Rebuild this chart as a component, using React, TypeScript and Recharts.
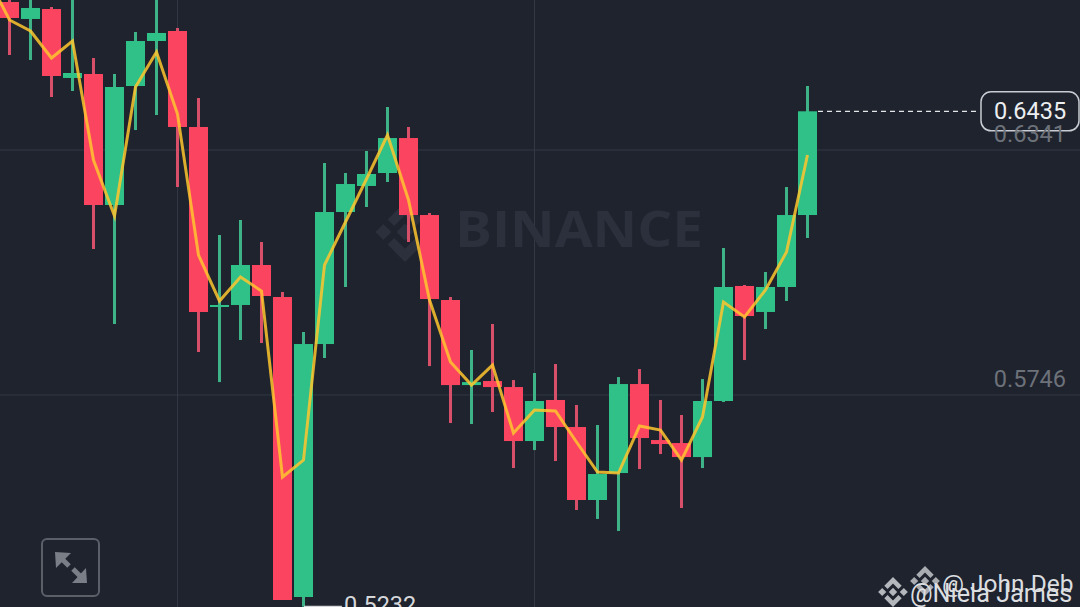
import { ComposedChart, Bar, Line, XAxis, YAxis, ReferenceLine, ReferenceDot } from "recharts";

const BG = "#1e232e";
const UP = "#2fc187";
const DOWN = "#fb4560";
const UP_WICK = "#3fb388";
const DOWN_WICK = "#d84f69";
const GRID = "#333844";

// price values
const slots = [-1, 0, 1, 2, 3, 4, 5, 6, 7, 8, 9, 10, 11, 12, 13, 14, 15, 16, 17, 18, 19, 20, 21, 22, 23, 24, 25, 26, 27, 28, 29, 30, 31, 32, 33, 34, 35, 36, 37, 38];
const opens = [null, .67004, .66592, .66834, .65159, .65256, .62074, .64964, .66057, .663, .63969, .59597, .59646, .60617, .5984, .52554, .58698, .61904, .62536, .62851, .63701, .61831, .59767, .57701, .57799, .57653, .56342, .57339, .56682, .5491, .55565, .57726, .56366, .56293, .55953, .57314, .60108, .59476, .60083, .61831];
const closes = [null, .66616, .66859, .65207, .6528, .62074, .6494, .66057, .66252, .63969, .59476, .59646, .60617, .59864, .52481, .58698, .61904, .62584, .62827, .63701, .61831, .59791, .57701, .57774, .57653, .56342, .57314, .56682, .5491, .55541, .57726, .56415, .56269, .55953, .57314, .60083, .59378, .60083, .61831, .6435];
const highs = [null, .67053, .67053, .66883, .67053, .65644, .65256, .66276, .67053, .66373, .64673, .61346, .6171, .61176, .59962, .5899, .63094, .62851, .63386, .64454, .63969, .6188, .5984, .58553, .59184, .57823, .57993, .58212, .57217, .56731, .57896, .5809, .57339, .56974, .57847, .6103, .60132, .60447, .62511, .64964];
const lows = [null, .65717, .65596, .64697, .64843, .61006, .59184, .63895, .6426, .62511, .58504, .57774, .58795, .58722, .52481, .5232, .58358, .60083, .62026, .62633, .61176, .58163, .56779, .56755, .57047, .55686, .56123, .55856, .54667, .54449, .54158, .55662, .56026, .54716, .55686, .5729, .58309, .59062, .59743, .61273];
const averages = [.67563, .66567, .663, .65644, .66057, .63167, .61807, .6494, .6579, .64284, .6086, .59743, .60326, .59986, .55468, .5588, .60617, .61661, .62706, .63774, .62196, .59767, .5826, .57701, .58187, .56536, .57096, .57071, .56318, .55589, .55565, .56706, .56609, .5588, .56925, .59718, .59354, .60011, .60933, .63289];
const axisTicks = [0.6341, 0.5746];
const gridSlots = [8, 25];
const lastPrice = 0.6435;
const lowestPrice = 0.5232;

const rows = slots.map((slot, i) => ({
    slot,
    open: opens[i],
    close: closes[i],
    high: highs[i],
    low: lows[i],
    range: lows[i] === null ? null : [lows[i], highs[i]],
    average: averages[i],
}));

function Candle (props: any) {
    const { x, y, width, height, payload } = props;
    if (payload.open === null) return null;
    const { open, close, high, low } = payload;
    const isUp = close >= open;
    const perUnit = height / (high - low);
    const top = y + (high - Math.max(open, close)) * perUnit;
    const bodyHeight = Math.max(Math.abs(open - close) * perUnit, 2);
    return (
        <g>
            <rect x={x + width / 2 - 1.5} y={y} width={3} height={height} fill={isUp ? UP_WICK : DOWN_WICK} />
            <rect x={x} y={top} width={width} height={bodyHeight} fill={isUp ? UP : DOWN} />
        </g>
    );
}

function PriceTick ({ y, payload }: any) {
    return (
        <text x={1066} y={y - 8} textAnchor="end" fontFamily="Roboto" fontSize={23.5} fill="#6d7179">
            {payload.value.toFixed(4)}
        </text>
    );
}

function LastPriceTag ({ cx, cy }: any) {
    return (
        <g>
            <rect x={cx - 49} y={cy - 19.5} width={98} height={39} rx={10} fill={BG} stroke="#c9cdd3" strokeWidth={1.5} />
            <text x={cx} y={cy + 8} textAnchor="middle" fontFamily="Roboto" fontSize={23.5} fill="#eceef0">
                {lastPrice.toFixed(4)}
            </text>
        </g>
    );
}

function LowestPriceLabel ({ cx, cy }: any) {
    return (
        <text x={cx} y={cy + 6} fontFamily="Roboto" fontSize={23.5} fill="#d5d7da">
            {lowestPrice.toFixed(4)}
        </text>
    );
}

function BinanceLogo ({ cx, cy, r, fill }: any) {
    const poly = (pts: number[][]) => pts.map(p => `${cx + p[0] * r},${cy + p[1] * r}`).join(" ");
    const diamond = (dx: number, d: number) => poly([[dx, -d], [dx + d, 0], [dx, d], [dx - d, 0]]);
    return (
        <g fill={fill}>
            <polygon points={diamond(0, 0.28)} />
            <polygon points={diamond(-0.72, 0.27)} />
            <polygon points={diamond(0.72, 0.27)} />
            <polygon points={poly([[0, -1], [0.58, -0.42], [0.36, -0.2], [0, -0.56], [-0.36, -0.2], [-0.58, -0.42]])} />
            <polygon points={poly([[0, 1], [0.58, 0.42], [0.36, 0.2], [0, 0.56], [-0.36, 0.2], [-0.58, 0.42]])} />
        </g>
    );
}

export default function App () {
    return (
        <div style={{ position: "absolute", left: 0, top: 0, width: 1080, height: 607, background: BG, overflow: "hidden" }}>
            <style>{`html, body { margin: 0; background: ${BG}; }`}</style>
            <ComposedChart width={1080} height={607} data={rows} margin={{ top: 0, right: 0, bottom: 0, left: 0 }}>
                <XAxis
                    dataKey="slot" type="number"
                    domain={[-0.45238, 50.97619]} allowDataOverflow
                    tick={false} tickLine={false} axisLine={false} height={0} />
                <YAxis
                    orientation="right" mirror width={1}
                    domain={[0.523113, 0.670529]} allowDataOverflow
                    ticks={axisTicks} interval={0} tick={<PriceTick />} tickLine={false} axisLine={false} />

                {axisTicks.map(v => <ReferenceLine key={v} y={v} stroke={GRID} zIndex={-50} />)}
                {gridSlots.map(s => <ReferenceLine key={s} x={s} stroke={GRID} zIndex={-50} />)}

                <BinanceLogo cx={405} cy={232} r={30} fill="#2b303c" />
                <text x={455} y={247} fontFamily="Open Sans" fontWeight={700} fontSize={50} fill="#2b303c" textLength={248} lengthAdjust="spacingAndGlyphs">
                    BINANCE
                </text>

                <Bar dataKey="range" barSize={19} shape={<Candle />} isAnimationActive={false} />
                <Line
                    dataKey="average" type="linear"
                    stroke="#ffc52e" strokeOpacity={0.85} strokeWidth={3}
                    dot={false} activeDot={false} isAnimationActive={false} />

                <ReferenceLine
                    segment={[{ x: 38.5, y: lastPrice }, { x: 46.21, y: lastPrice }]}
                    stroke="#e4e6e9" strokeWidth={1.2} strokeDasharray="5 4" />
                <ReferenceDot x={48.595} y={lastPrice} shape={<LastPriceTag />} />
                <ReferenceLine
                    segment={[{ x: 14.02, y: lowestPrice }, { x: 15.83, y: lowestPrice }]}
                    stroke="#d5d7da" strokeWidth={2} />
                <ReferenceDot x={15.93} y={lowestPrice} shape={<LowestPriceLabel />} />

                <rect x={42} y={539} width={57} height={57} rx={5} fill="none" stroke="#5b5f68" strokeWidth={2} />
                <g fill="#7a7e87" stroke="none">
                    <polygon points="55,552 71,553 56,568" />
                    <polygon points="87,583 86,568 72,583" />
                </g>
                <g stroke="#7a7e87" strokeWidth={5}>
                    <line x1={61} y1={558} x2={69} y2={566} />
                    <line x1={73} y1={569} x2={81} y2={577} />
                </g>

                <BinanceLogo cx={925} cy={581} r={15} fill="#a9acb1" />
                <BinanceLogo cx={893} cy={592} r={15} fill="#b4b7bb" />
                <text x={942} y={592} fontFamily="Roboto" fontSize={24.5} fill="#dcdee0">@ John Deb</text>
                <text x={910} y={602} fontFamily="Roboto" fontSize={25.2} fill="#dcdee0">@Niela James</text>
            </ComposedChart>
        </div>
    );
}
